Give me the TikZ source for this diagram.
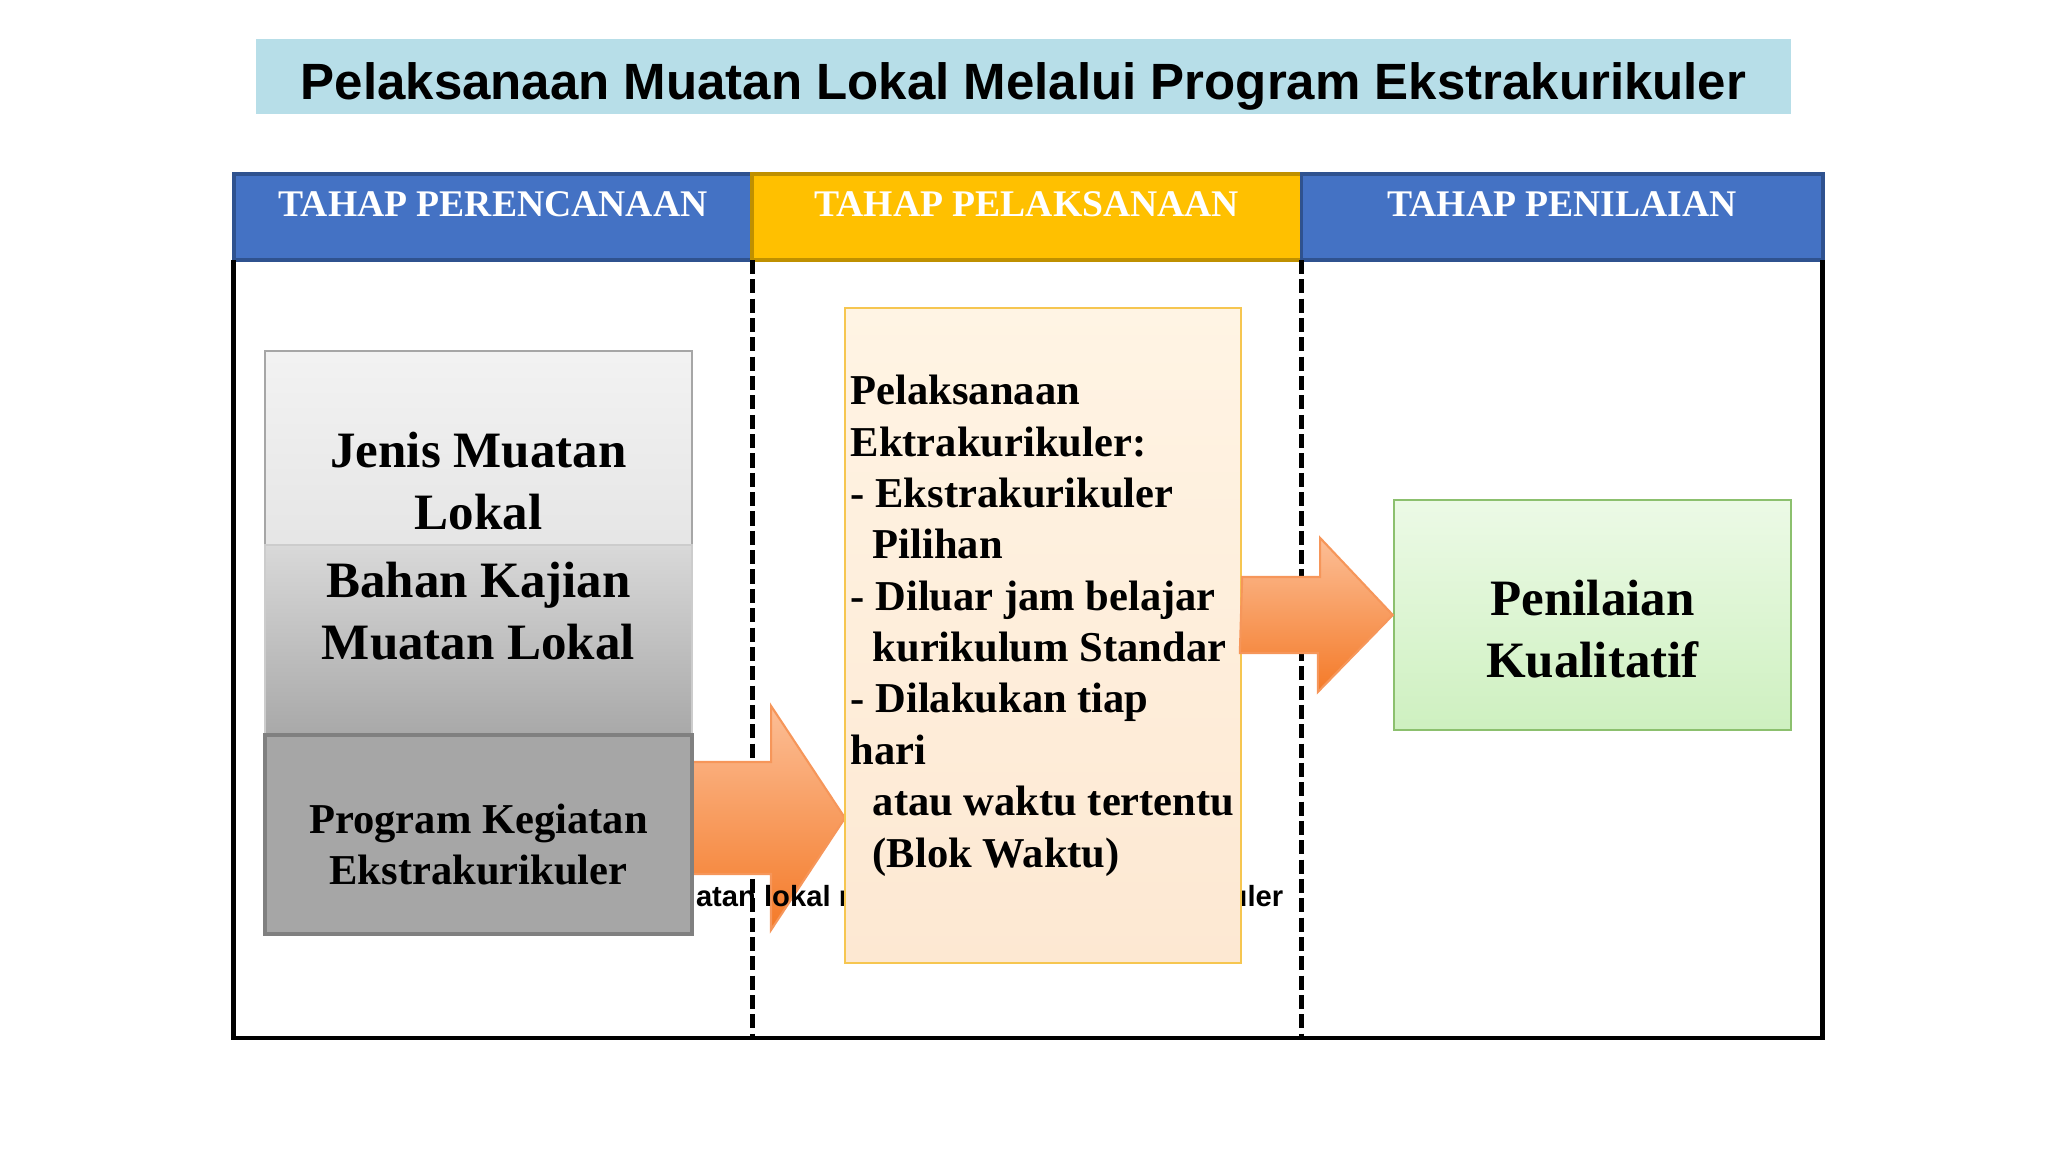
\documentclass[tikz,border=0pt]{standalone}
\usepackage{fontspec}
\setmainfont{Liberation Serif}
\newfontfamily\arialfont{Liberation Sans}
\usepackage{tikz}
\usetikzlibrary{positioning}

\definecolor{titlebg}{RGB}{183,222,232}
\definecolor{hblue}{RGB}{68,114,196}
\definecolor{hblueline}{RGB}{47,82,143}
\definecolor{hgold}{RGB}{255,192,0}
\definecolor{hgoldline}{RGB}{191,144,0}
\definecolor{peachtop}{RGB}{255,244,228}
\definecolor{peachbot}{RGB}{253,232,210}
\definecolor{peachline}{RGB}{246,198,80}
\definecolor{greentop}{RGB}{236,250,230}
\definecolor{greenbot}{RGB}{206,240,192}
\definecolor{greenline}{RGB}{140,192,110}
\definecolor{orangetop}{RGB}{252,190,150}
\definecolor{orangebot}{RGB}{244,122,40}
\definecolor{orangeline}{RGB}{246,150,90}

\tikzstyle{titlebox} = [rectangle, fill=titlebg, minimum width=15.35cm, text height=0.60cm, text depth=0.15cm, inner ysep=0pt, font=\arialfont\bfseries\fontsize{14.5}{17}\selectfont]
\tikzstyle{header} = [rectangle, draw=hblueline, line width=1pt, fill=hblue, text=white, font=\fontsize{10.7}{12}\selectfont\bfseries, text height=0.425cm, text depth=0.435cm, inner ysep=0pt, outer sep=0pt]
\tikzstyle{frame} = [line width=1.4pt, black]
\tikzstyle{divider} = [line width=1.5pt, black, dash pattern=on 4pt off 1.5pt]
\tikzstyle{graybox} = [rectangle, minimum width=4.27cm, outer sep=0pt, inner sep=0pt]
\tikzstyle{boxtext} = [align=center, inner sep=0pt, font=\bfseries\fontsize{14.5}{17.5}\selectfont]
\tikzstyle{blockarrow} = [draw=orangeline, line width=0.6pt, top color=orangetop, bottom color=orangebot]

\begin{document}
\begin{tikzpicture}[x=0.01cm, y=-0.01cm]
        \useasboundingbox (0,0) rectangle (2048,1152);

        \node (title) [titlebox] at (1023.5,76.5) {Pelaksanaan Muatan Lokal Melalui Program Ekstrakurikuler};

        % header row
        \node (perenc) [header, minimum width=5.18cm] at (493,217) {TAHAP PERENCANAAN};
        \node (pelaks) [header, fill=hgold, draw=hgoldline, minimum width=5.49cm, right=0cm of perenc] {TAHAP PELAKSANAAN};
        \node (penil) [header, minimum width=5.21cm, right=0cm of pelaks] {TAHAP PENILAIAN};

        \draw [frame] (perenc.south west) -- ++(0,778) -| (penil.south east);
        \draw [divider] (perenc.south east) -- ++(0,778);
        \draw [divider] (pelaks.south east) -- ++(0,778);

        % perencanaan
        \node (jenis) [graybox, minimum height=1.94cm, draw=black!35, line width=0.6pt, top color=black!5, bottom color=black!10] at (478.5,448) {};
        \node (bahan) [graybox, minimum height=1.90cm, draw=black!20, line width=0.6pt, top color=black!15, bottom color=black!34, below=0cm of jenis] {};
        \coordinate (tipA) at (845,818);
        \draw [blockarrow] (bahan.east |- tipA) ++(0,-56) -- ++(79,0) -- ++(0,-56) -- (tipA) -- ++(-74,112) -- ++(0,-56) -- ++(-79,0) -- cycle;
        \node (ekskul) [anchor=east, inner sep=0pt, font=\arialfont\bfseries\fontsize{8.3}{10}\selectfont] at (1284,899) {Program muatan lokal melalui kegiatan ekstrakurikuler};
        \node (prog) [graybox, minimum height=1.99cm, draw=black!50, line width=1.2pt, fill=black!35, below=0cm of bahan] {};
        \node (jenistext) [boxtext] at (478.5,481) {Jenis Muatan\\Lokal};
        \node (bahantext) [boxtext] at (478.5,611) {Bahan Kajian\\Muatan Lokal};
        \node (progtext) [boxtext, font=\bfseries\fontsize{12.1}{14.5}\selectfont] at (478.5,844) {Program Kegiatan\\Ekstrakurikuler};

        % pelaksanaan
        \node (pelak) [rectangle, minimum width=3.96cm, minimum height=6.55cm, draw=peachline, line width=0.6pt, top color=peachtop, bottom color=peachbot] at (1043,635.5) {};
        \node (pelaktext) [anchor=base west, align=left, inner sep=0pt, font=\bfseries\fontsize{12.1}{14.6}\selectfont] at (850,867) {Pelaksanaan\\Ektrakurikuler:\\- Ekstrakurikuler\\\hspace*{0.22cm}Pilihan\\- Diluar jam belajar\\\hspace*{0.22cm}kurikulum Standar\\- Dilakukan tiap\\hari\\\hspace*{0.22cm}atau waktu tertentu\\\hspace*{0.22cm}(Blok Waktu)};

        % penilaian
        \node (green) [rectangle, minimum width=3.97cm, minimum height=2.30cm, draw=greenline, line width=0.6pt, top color=greentop, bottom color=greenbot] at (1592.5,615) {};
        \node (greentext) [boxtext] at (1592.5,629) {Penilaian\\Kualitatif};

        \draw [blockarrow] (pelak.east |- green.west) ++(0,-38) -- ++(78,0) -- ++(0,-39) -- (green.west) -- ++(-75,77) -- ++(0,-39) -- ++(-78,0) -- cycle;

\end{tikzpicture}
\end{document}
